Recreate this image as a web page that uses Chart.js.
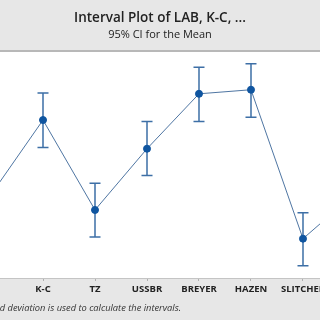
<!DOCTYPE html>
<html><head><meta charset="utf-8">
<script src="https://cdn.jsdelivr.net/npm/chart.js@4/dist/chart.umd.min.js"></script>
<style>
html,body{margin:0;padding:0;background:#e7e7e7;overflow:hidden;}
#wrap{position:relative;width:320px;height:320px;overflow:hidden;background:#e7e7e7;}
#note{position:absolute;right:139px;top:301px;white-space:nowrap;font:italic 9.3px "Open Sans",sans-serif;color:#333;}
</style></head>
<body><div id="wrap"><canvas id="c" width="320" height="320"></canvas>
<div id="note">The pooled standard deviation is used to calculate the intervals.</div></div>
<script>
const categories = ["LAB","K-C","TZ","USSBR","BREYER","HAZEN","SLITCHER","OTHER"];
const means = [3.69, 6.99, 3.01, 5.72, 8.15, 8.33, 1.74, 3.74];
const upper = [4.90, 8.19, 4.19, 6.93, 9.32, 9.48, 2.89, 4.90];
const lower = [2.48, 5.77, 1.81, 4.54, 6.93, 7.11, 0.54, 2.58];

const errorBars = {
  id:'errorBars',
  beforeDatasetsDraw(chart){
    const {ctx, chartArea:a, scales:{x,y}} = chart;
    ctx.save();
    ctx.beginPath(); ctx.rect(a.left,a.top,a.right-a.left,a.bottom-a.top); ctx.clip();
    ctx.strokeStyle='#3d6fa6'; ctx.lineWidth=1.5;
    categories.forEach((c,i)=>{
      const px=x.getPixelForValue(i), t=y.getPixelForValue(upper[i]), b=y.getPixelForValue(lower[i]);
      ctx.beginPath();
      ctx.moveTo(px,t); ctx.lineTo(px,b);
      ctx.moveTo(px-5.5,t); ctx.lineTo(px+5.5,t);
      ctx.moveTo(px-5.5,b); ctx.lineTo(px+5.5,b);
      ctx.stroke();
    });
    ctx.restore();
  }
};
const bg = {
  id:'bg',
  beforeDraw(chart){
    const {ctx, chartArea:a, width, height} = chart;
    ctx.save();
    ctx.fillStyle='#e7e7e7'; ctx.fillRect(0,0,width,height);
    ctx.fillStyle='#ffffff'; ctx.fillRect(a.left,a.top,a.right-a.left,a.bottom-a.top);
    ctx.fillStyle='#b8b8b8'; ctx.fillRect(0,a.top-2,width,2);
    ctx.restore();
  }
};

new Chart(document.getElementById('c'),{
  type:'line',
  data:{datasets:[{
    data: means.map((v,i)=>({x:i,y:v})),
    borderColor:'#4f76a3', borderWidth:1,
    pointBackgroundColor:'#0f55a0', pointBorderColor:'#0f55a0',
    pointRadius:3.5, tension:0
  }]},
  options:{
    responsive:false, animation:false,
    layout:{padding:0, autoPadding:false},
    plugins:{
      legend:{display:false}, tooltip:{enabled:false},
      title:{display:true,text:'Interval Plot of LAB, K-C, ...',color:'#222',
        font:{family:'Open Sans',size:13.5,weight:'600',lineHeight:1.2},padding:{top:10,bottom:2}},
      subtitle:{display:true,text:'95% CI for the Mean',color:'#222',
        font:{family:'Open Sans',size:11,weight:'normal',lineHeight:1.2},padding:{top:0,bottom:10.6}}
    },
    scales:{
      x:{type:'linear',min:0.173,max:6.327,
        border:{display:true,color:'#c4c4c4'},
        grid:{display:true,drawOnChartArea:false,tickLength:3,color:'#b0b0b0'},
        ticks:{stepSize:1,includeBounds:false,autoSkip:false,maxRotation:0,padding:3,color:'#222',
          font:{family:'Open Sans',size:9.5,weight:'bold'},
          callback:v=>Number.isInteger(v)?categories[v]:''},
        afterFit:s=>{s.height=42;s.paddingLeft=0;s.paddingRight=0;}
      },
      y:{display:false,min:0,max:10}
    }
  },
  plugins:[bg,errorBars]
});
</script></body></html>
